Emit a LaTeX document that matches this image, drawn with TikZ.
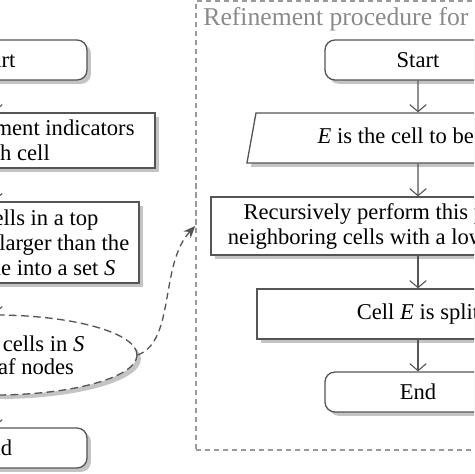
\documentclass[tikz,border=0pt]{standalone}
\usepackage{fontspec}
\setmainfont{Liberation Serif}
\usetikzlibrary{positioning,arrows.meta,shapes.geometric,shadows}
\definecolor{edgegray}{HTML}{555555}
\definecolor{framegray}{HTML}{9A9A9A}
\definecolor{titlegray}{HTML}{8A8A8A}
\definecolor{shadowgray}{HTML}{C4C4C4}
\tikzset{
  flowarrow/.style={-{Straight Barb[length=3.2pt,width=7.5pt]}, edgegray, line width=0.5pt},
  linkarrow/.style={-{Stealth[length=5.5pt,width=4.5pt]}, edgegray, line width=0.6pt, dash pattern=on 3pt off 2pt},
  boxshadow/.style={drop shadow={shadow xshift=1.8pt, shadow yshift=-1.8pt, fill=shadowgray, opacity=1}},
  termnode/.style={draw=edgegray, line width=0.6pt, rounded corners=4.5pt, fill=white, minimum width=84.8pt, minimum height=18.2pt, align=center, font=\fontsize{10.3}{11.4}\selectfont, boxshadow},
  procnode/.style={draw=edgegray, line width=0.6pt, fill=white, inner sep=1pt, align=center, font=\fontsize{10.3}{11.4}\selectfont, boxshadow},
  ionode/.style={trapezium, trapezium left angle=70, trapezium right angle=110, trapezium stretches body, draw=edgegray, line width=0.6pt, fill=white, inner sep=1pt, minimum width=156pt, minimum height=22.8pt, align=center, font=\fontsize{10.3}{11.4}\selectfont, boxshadow},
  setnode/.style={ellipse, draw=edgegray, line width=0.6pt, dash pattern=on 3.5pt off 2pt, fill=white, inner sep=0pt, minimum width=130.4pt, minimum height=36.5pt, align=center, font=\fontsize{10.3}{10.8}\selectfont, boxshadow},
  framebox/.style={draw=framegray, line width=0.6pt, dash pattern=on 2.3pt off 1.8pt, minimum width=202.5pt, minimum height=204.7pt},
  frametitle/.style={text=titlegray, font=\fontsize{11.7}{14}\selectfont, inner sep=0pt, anchor=base west}
}

\begin{document}
\begin{tikzpicture}[x=0.456pt, y=-0.456pt]
  \useasboundingbox (0,0) rectangle (474,474);
  \clip (0,0) rectangle (474,474);
  % main flow
  \node[termnode] (s1) at (-6,60) {Start};
  \node[procnode, minimum width=146.8pt, minimum height=25.1pt] (c1) at (-6,140.5) {Compute refinement indicators\\for each cell};
  \node[procnode, minimum width=132.2pt, minimum height=37pt] (c2) at (-6,242.5) {Select the cells in a top\\with indicators larger than the\\threshold value into a set \textit{S}};
  \node[setnode] (c3) at (-6,355) {Refine the cells in \textit{S}\\as new leaf nodes};
  \node[termnode] (e1) at (-6,448) {End};
  \draw[flowarrow] (s1) -- (c1);
  \draw[flowarrow] (c1) -- (c2);
  \draw[flowarrow] (c2) -- (c3);
  \draw[flowarrow] (c3) -- (e1);
  % refinement procedure
  \node[framebox] (frame) at (418,225.5) {};
  \node[frametitle] (title) at (203,26) {Refinement procedure for cell \textit{E}};
  \node[termnode] (s2) at (418,60) {Start};
  \node[ionode] (p2) at (418,138) {\textit{E} is the cell to be split};
  \node[procnode, minimum width=188.8pt, minimum height=26.4pt] (r2) at (418,226) {Recursively perform this procedure on\\neighboring cells with a lower depth level};
  \node[procnode, minimum width=146.8pt, minimum height=22.8pt] (d2) at (418,314) {Cell \textit{E} is split};
  \node[termnode] (e2) at (418,392) {End};
  \draw[flowarrow] (s2) -- (p2);
  \draw[flowarrow] (p2) -- (r2);
  \draw[flowarrow] (r2) -- (d2);
  \draw[flowarrow] (d2) -- (e2);
  \coordinate (entry) at (frame.west |- r2.west);
  \draw[linkarrow] (c3.east) .. controls +(38,-14) and +(-36,38) .. (entry);
\end{tikzpicture}
\end{document}
